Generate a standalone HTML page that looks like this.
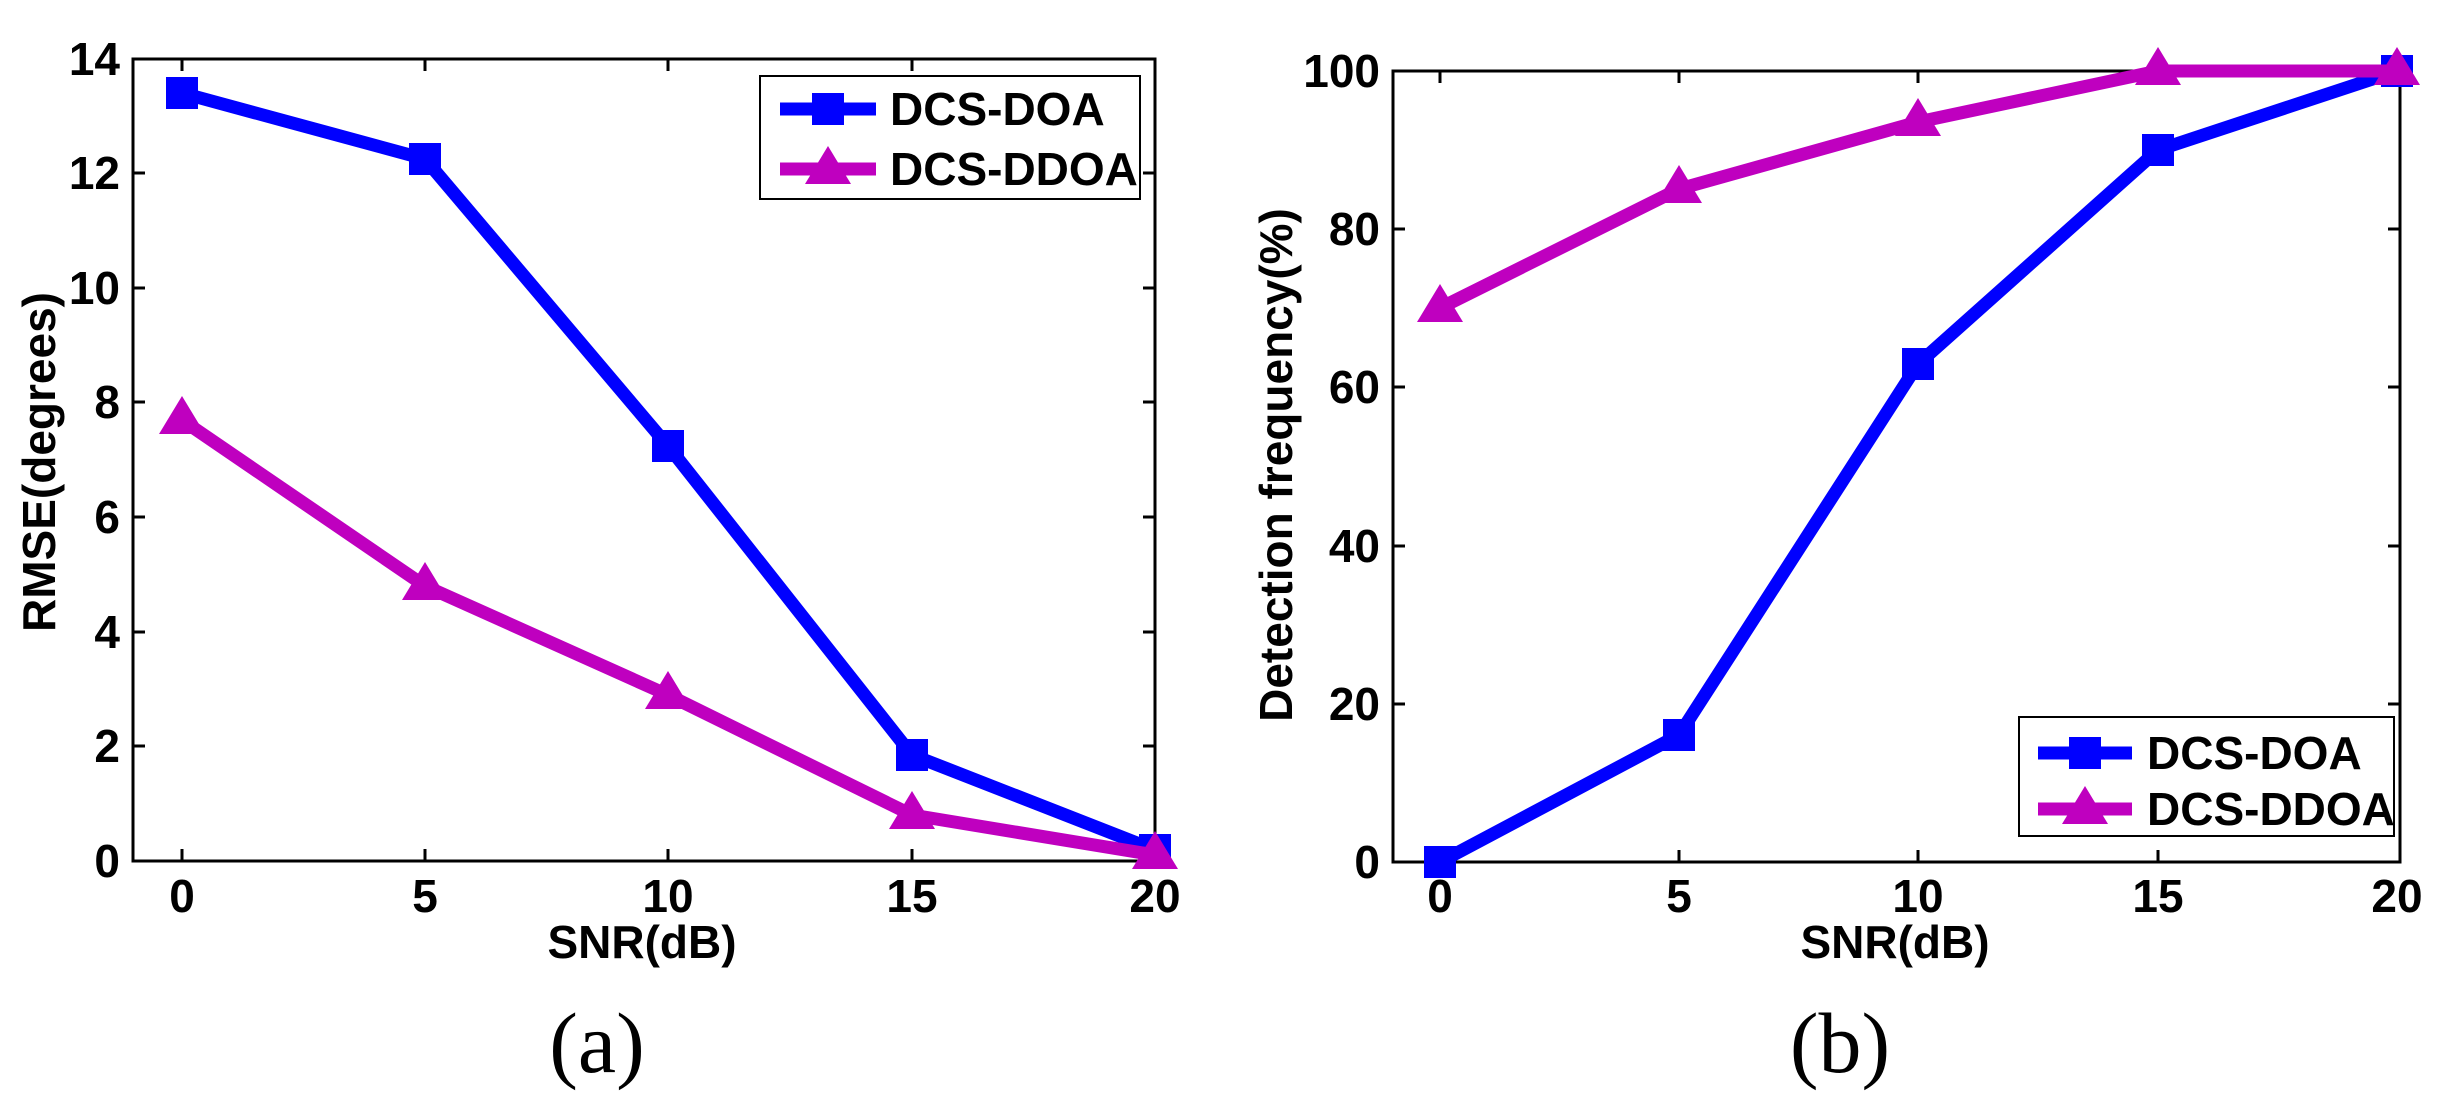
<!DOCTYPE html>
<html><head><meta charset="utf-8"><style>
html,body{margin:0;padding:0;background:#fff;}
svg{display:block;}
text{font-family:"Liberation Sans",Arial,sans-serif;font-weight:bold;fill:#000;}
.t{font-size:46px;}
.cap{font-family:"Liberation Serif",serif;font-weight:normal;font-size:86px;}
</style></head><body>
<svg width="2437" height="1104" viewBox="0 0 2437 1104" xmlns="http://www.w3.org/2000/svg">
<!-- Plot A -->
<g stroke="#000" stroke-width="3" fill="none">
<rect x="133" y="59" width="1022" height="802"/>
<path d="M133 861h12M133 746h12M133 632h12M133 517h12M133 402h12M133 288h12M133 173h12M133 59h12
M1155 861h-12M1155 746h-12M1155 632h-12M1155 517h-12M1155 402h-12M1155 288h-12M1155 173h-12M1155 59h-12
M182 861v-12M425 861v-12M668 861v-12M912 861v-12M182 59v12M425 59v12M668 59v12M912 59v12"/>
</g>
<g class="t" text-anchor="end">
<text x="120" y="877">0</text><text x="120" y="762">2</text><text x="120" y="648">4</text><text x="120" y="533">6</text>
<text x="120" y="418">8</text><text x="120" y="304">10</text><text x="120" y="189">12</text><text x="120" y="75">14</text>
</g>
<g class="t" text-anchor="middle">
<text x="182" y="912">0</text><text x="425" y="912">5</text><text x="668" y="912">10</text><text x="912" y="912">15</text><text x="1155" y="912">20</text>
<text x="642" y="958">SNR(dB)</text>
<text transform="translate(55,462) rotate(-90)">RMSE(degrees)</text>
</g>
<polyline points="182,93 425,159 668,446 912,755 1155,850" fill="none" stroke="#0000ff" stroke-width="13" stroke-linejoin="round"/>
<g fill="#0000ff">
<rect x="166" y="77" width="32" height="32"/><rect x="409" y="143" width="32" height="32"/><rect x="652" y="430" width="32" height="32"/><rect x="896" y="739" width="32" height="32"/><rect x="1139" y="834" width="32" height="32"/>
</g>
<polyline points="182,420 425,586 668,695 912,815 1155,855" fill="none" stroke="#bf00bf" stroke-width="13" stroke-linejoin="round"/>
<g fill="#bf00bf">
<path d="M182,396 l23,38 h-46z"/><path d="M425,562 l23,38 h-46z"/><path d="M668,671 l23,38 h-46z"/><path d="M912,791 l23,38 h-46z"/><path d="M1155,831 l23,38 h-46z"/>
</g>
<rect x="760" y="76" width="380" height="123" fill="#fff" stroke="#000" stroke-width="2"/>
<path d="M780 109h96" stroke="#0000ff" stroke-width="13"/>
<rect x="812" y="93" width="32" height="32" fill="#0000ff"/>
<path d="M780 169h96" stroke="#bf00bf" stroke-width="13"/>
<path d="M828,146 l23,38 h-46z" fill="#bf00bf"/>
<text class="t" x="890" y="125">DCS-DOA</text>
<text class="t" x="890" y="185">DCS-DDOA</text>
<text class="cap" x="597" y="1072" text-anchor="middle">(a)</text>

<!-- Plot B -->
<g stroke="#000" stroke-width="3" fill="none">
<rect x="1393" y="71" width="1007" height="791"/>
<path d="M1393 862h12M1393 704h12M1393 546h12M1393 387h12M1393 229h12M1393 71h12
M2400 862h-12M2400 704h-12M2400 546h-12M2400 387h-12M2400 229h-12M2400 71h-12
M1440 862v-12M1679 862v-12M1918 862v-12M2158 862v-12M1440 71v12M1679 71v12M1918 71v12M2158 71v12"/>
</g>
<g class="t" text-anchor="end">
<text x="1380" y="878">0</text><text x="1380" y="720">20</text><text x="1380" y="562">40</text><text x="1380" y="403">60</text><text x="1380" y="245">80</text><text x="1380" y="87">100</text>
</g>
<g class="t" text-anchor="middle">
<text x="1440" y="912">0</text><text x="1679" y="912">5</text><text x="1918" y="912">10</text><text x="2158" y="912">15</text><text x="2397" y="912">20</text>
<text x="1895" y="958">SNR(dB)</text>
<text transform="translate(1292,465) rotate(-90)">Detection frequency(%)</text>
</g>
<polyline points="1440,862 1679,735 1918,364 2158,150 2397,71" fill="none" stroke="#0000ff" stroke-width="13" stroke-linejoin="round"/>
<g fill="#0000ff">
<rect x="1424" y="846" width="32" height="32"/><rect x="1663" y="719" width="32" height="32"/><rect x="1902" y="348" width="32" height="32"/><rect x="2142" y="134" width="32" height="32"/><rect x="2381" y="55" width="32" height="32"/>
</g>
<polyline points="1440,308 1679,189 1918,122 2158,71 2397,71" fill="none" stroke="#bf00bf" stroke-width="13" stroke-linejoin="round"/>
<g fill="#bf00bf">
<path d="M1440,284 l23,38 h-46z"/><path d="M1679,165 l23,38 h-46z"/><path d="M1918,98 l23,38 h-46z"/><path d="M2158,47 l23,38 h-46z"/><path d="M2397,47 l23,38 h-46z"/>
</g>
<rect x="2019" y="717" width="375" height="119" fill="#fff" stroke="#000" stroke-width="2"/>
<path d="M2038 753h94" stroke="#0000ff" stroke-width="13"/>
<rect x="2069" y="737" width="32" height="32" fill="#0000ff"/>
<path d="M2038 809h94" stroke="#bf00bf" stroke-width="13"/>
<path d="M2085,786 l23,38 h-46z" fill="#bf00bf"/>
<text class="t" x="2147" y="769">DCS-DOA</text>
<text class="t" x="2147" y="825">DCS-DDOA</text>
<text class="cap" x="1840" y="1072" text-anchor="middle">(b)</text>
</svg>
</body></html>
